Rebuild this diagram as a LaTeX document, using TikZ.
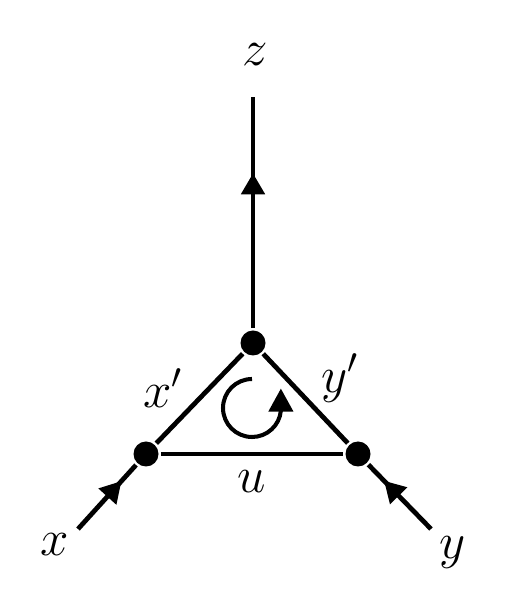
\RequirePackage{fix-cm}
\documentclass[tikz,border=0pt]{standalone}
\usetikzlibrary{arrows.meta,decorations.markings}
\begin{document}
\begin{tikzpicture}[line width=2.7pt,
  vertex/.style={circle,fill,inner sep=0pt,minimum size=0.5cm},
  lbl/.style={font=\fontsize{29}{33}\selectfont},
  spinarrow/.style={line width=2.3pt,-{Triangle[length=0.46cm,width=0.48cm]}},
  midarrow/.style={postaction={decorate},decoration={markings,mark=at position #1 with {\arrow{Triangle[length=0.42cm,width=0.46cm]}}}}]
\useasboundingbox (0,0) rectangle (10.18,12.1);
%\draw[help lines, step=1cm] (0,0) grid +(10,12);
\node[vertex](t) at (5.06,5.24) {};
\node[vertex](l) at (2.92,3.02) {};
\node[vertex](r) at (7.16,3.02) {};
\coordinate(ztop) at (5.06,10.16);
\coordinate(xin) at (1.56,1.52);
\coordinate(yin) at (8.62,1.52);
\coordinate(spin) at (5.04,3.94);
\node[lbl](z) at (5.1,11.0) {$z$};
\node[lbl](x) at (1.1,1.2) {$x$};
\node[lbl](y) at (9.06,1.06) {$y$};
\node[lbl](xp) at (3.26,4.34) {$x'$};
\node[lbl](yp) at (6.8,4.54) {$y'$};
\node[lbl](u) at (5.04,2.46) {$u$};

\draw[midarrow=0.67](t)--(ztop);
\draw[midarrow=0.75](xin)--(l);
\draw[midarrow=0.75](yin)--(r);
\draw(t)--(l);
\draw(t)--(r);
\draw(l)--(r);
\draw[spinarrow]([shift={(90:0.58)}]spin) arc[start angle=90,end angle=355,radius=0.58] -- ++(0,0.44);
\end{tikzpicture}
\end{document}
